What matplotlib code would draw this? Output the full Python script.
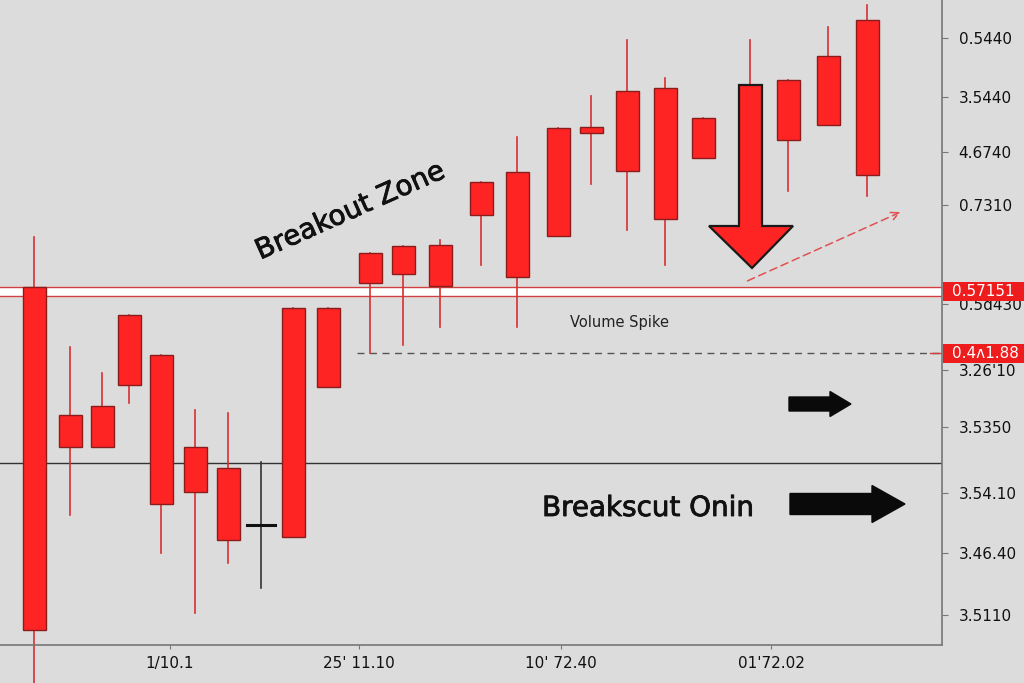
import matplotlib
matplotlib.use("Agg")
import matplotlib.pyplot as plt
import matplotlib.patheffects as pe
from matplotlib.patches import Rectangle, Polygon, FancyArrow

# ---- data -------------------------------------------------------------
# session positions along the time axis
slots = [34, 70, 102, 129, 161, 195, 228, 261, 293, 328, 370, 403,
         440, 481, 517, 558, 591, 627, 665, 703, 750, 788, 828, 867]
opens = [15, 198, 198, 260, 141, 153, 105, 120, 108, 258, 362, 371,
         359, 430, 368, 409, 512, 474, 426, 487, 419, 505, 520, 470]
closes = [358, 230, 239, 330, 290, 198, 177, 120, 337, 337, 392, 399,
          400, 463, 473, 517, 518, 554, 557, 527, 560, 565, 589, 625]
highs = [408, 298, 272, 330, 290, 235, 232, 183, 337, 337, 392, 399,
         405, 463, 508, 517, 549, 605, 567, 527, 605, 565, 618, 640]
lows = [-38, 130, 198, 242, 92, 32, 82, 57, 108, 258, 292, 300,
        318, 380, 318, 409, 461, 415, 380, 487, 419, 454, 520, 449]
doji_index = 7
arrow_index = 20

x_tick_pos = [170, 359, 561, 771]
x_tick_labels = ["1/10.1", "25' 11.10", "10' 72.40", "01'72.02"]

y_tick_pos = [607, 548, 493, 440, 341, 275, 218, 152, 92, 30]
y_tick_labels = ["0.5440", "3.5440", "4.6740", "0.7310", "0.5d430",
                 "3.26'10", "3.5350", "3.54.10", "3.46.40", "3.5110"]

resistance_level = 353.5       # highlighted breakout band (centre)
resistance_label = "0.57151"
spike_level = 292
spike_label = "0.4ʌ1.88"
support_level = 182

# ---- style ------------------------------------------------------------
BG = "#dcdcdc"
BODY = "#ff2424"
BODY_EDGE = "#8a1c1c"
WICK = "#d63030"
heavy = [pe.withStroke(linewidth=0.6, foreground="#111111")]

fig = plt.figure(figsize=(10.24, 6.83), dpi=100, facecolor=BG)
ax = fig.add_axes([0, 38 / 683, 942 / 1024, 645 / 683])
ax.set_facecolor(BG)
ax.set_xlim(0, 942)
ax.set_ylim(0, 645)

body_w = 23

for i, (x, o, c, h, l) in enumerate(zip(slots, opens, closes, highs, lows)):
    lo_b, hi_b = min(o, c), max(o, c)
    if i == doji_index:
        ax.plot([x, x], [l, h], color="#333333", lw=1.2, zorder=3, clip_on=False)
        ax.plot([x - 14, x + 14], [o, o], color="#111111", lw=2.2, zorder=3)
        continue
    ax.plot([x, x], [l, h], color=WICK, lw=1.2, zorder=2, clip_on=False)
    edge = "#1a1a1a" if i == arrow_index else BODY_EDGE
    lw = 1.6 if i == arrow_index else 1.0
    ax.add_patch(Rectangle((x - body_w / 2, lo_b), body_w, hi_b - lo_b,
                           facecolor=BODY, edgecolor=edge, lw=lw, zorder=4))

# big red down arrow head under the arrow candle
ax_x = slots[arrow_index]
ax_base = min(opens[arrow_index], closes[arrow_index])
ax.add_patch(Polygon([(ax_x - 41, ax_base), (ax_x + 43, ax_base), (ax_x + 2, ax_base - 42)],
                     closed=True, facecolor=BODY, edgecolor="#1a1a1a", lw=1.6, zorder=5))
ax.add_patch(Rectangle((ax_x - body_w / 2 + 1, ax_base - 2), body_w - 2, 4,
                       facecolor=BODY, edgecolor="none", zorder=6))

# resistance band
ax.axhspan(resistance_level - 4.5, resistance_level + 4.5, color="white", zorder=1.2)
for yy in (resistance_level - 4.5, resistance_level + 4.5):
    ax.axhline(yy, color="#d04040", lw=1.0, zorder=1.3)

# support line
ax.axhline(support_level, color="#333333", lw=1.0, zorder=1.3)

# volume spike dashed level
ax.plot([357, 942], [spike_level, spike_level], color="#555555", lw=1.0,
        ls=(0, (5, 4)), zorder=1.3)
ax.plot([930, 942], [spike_level, spike_level], color="#d04040", lw=1.0, zorder=1.4)
ax.text(620, 322, "Volume Spike", fontsize=10.5, color="#222222",
        ha="center", va="center", zorder=6)

# annotations
ax.text(350, 434, "Breakout Zone", fontsize=20, rotation=24, color="#111111",
        ha="center", va="center", zorder=6, path_effects=heavy)
ax.text(648, 137, "Breakscut Onin", fontsize=20, color="#111111",
        ha="center", va="center", zorder=6, path_effects=heavy)

ax.add_patch(FancyArrow(790, 141, 82, 0, width=21, head_width=37, head_length=33,
                        length_includes_head=False, facecolor="#0a0a0a",
                        edgecolor="#0a0a0a", zorder=6))
ax.add_patch(FancyArrow(789, 241, 41, 0, width=14, head_width=25, head_length=21,
                        length_includes_head=False, facecolor="#0a0a0a",
                        edgecolor="#0a0a0a", zorder=6))

ax.annotate("", xy=(903, 434), xytext=(745, 363),
            arrowprops=dict(arrowstyle="->", color="#e05050", lw=1.1,
                            linestyle=(0, (5, 3)), mutation_scale=14),
            zorder=6)

# axes styling
for side in ("top", "left"):
    ax.spines[side].set_visible(False)
for side in ("right", "bottom"):
    ax.spines[side].set_color("#777777")
    ax.spines[side].set_linewidth(1.2)

ax.yaxis.tick_right()
ax.set_yticks(y_tick_pos)
ax.set_yticklabels(y_tick_labels)
ax.tick_params(axis="y", direction="out", length=4, pad=8, colors="#777777",
               labelcolor="#111111", labelsize=11)
ax.set_xticks(x_tick_pos)
ax.set_xticklabels(x_tick_labels)
ax.tick_params(axis="x", direction="out", length=3, pad=5, colors="#777777",
               labelcolor="#111111", labelsize=11)

# price tags on the right axis
for level, label in ((resistance_level, resistance_label), (spike_level, spike_label)):
    ax.add_patch(Rectangle((943, level - 9.5), 90, 19, facecolor="#ee1c1c",
                           edgecolor="none", clip_on=False, zorder=7))
    ax.text(952, level, label, fontsize=11, color="white", ha="left",
            va="center", clip_on=False, zorder=8)

fig.savefig("out.png", dpi=100, facecolor=BG)
